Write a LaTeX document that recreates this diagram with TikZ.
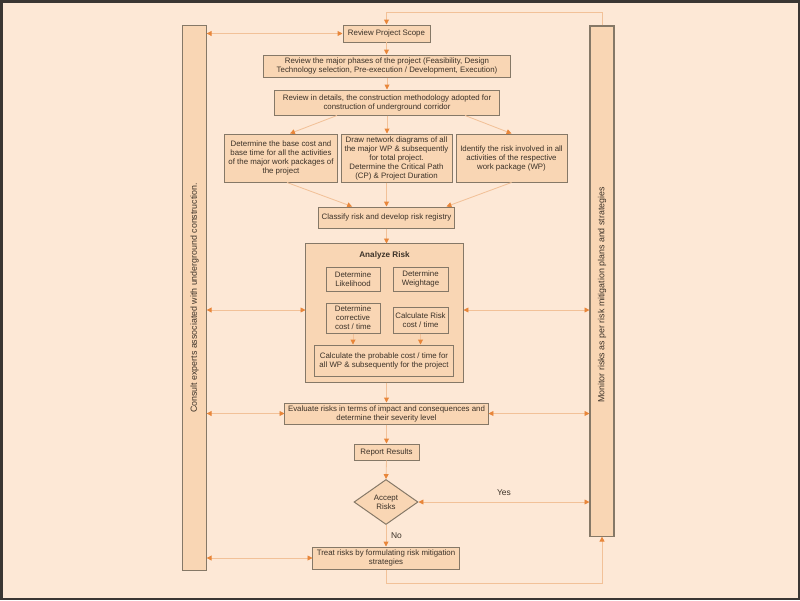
\documentclass[tikz,border=0pt]{standalone}
\usepackage{fontspec}
\setmainfont{Liberation Sans}
\usetikzlibrary{arrows.meta,shapes.geometric}

\definecolor{pagebg}{HTML}{FDE8D6}
\definecolor{framecol}{HTML}{3A3633}
\definecolor{boxfill}{HTML}{F9D6B4}
\definecolor{boxline}{HTML}{857867}
\definecolor{inkcol}{HTML}{3C3228}
\definecolor{linecol}{HTML}{F2C198}
\definecolor{tipcol}{HTML}{E8863A}

\tikzset{
  stage/.style={draw=boxline, fill=boxfill, line width=0.7pt, inner sep=0pt,
    align=center, text=inkcol, font=\fontsize{5.6}{6.4}\selectfont},
  sidebar/.style={draw=boxline, fill=boxfill, line width=0.8pt, minimum width=0.58cm},
  sidetext/.style={rotate=90, text=inkcol, font=\fontsize{6.3}{7}\selectfont},
  tag/.style={text=inkcol, font=\fontsize{6}{7}\selectfont},
  flow/.style={draw=linecol, line width=0.6pt},
}

\begin{document}
\begin{tikzpicture}[x=0.025cm, y=-0.025cm, >={Triangle[length=3.5pt,width=3.5pt,color=tipcol]}]
    % Page and frame
    \fill[framecol] (0,0) rectangle (800,600);
    \fill[pagebg] (2.5,2.5) rectangle (797.5,597.5);
    \useasboundingbox (0,0) rectangle (800,600);

    % Side bars
    \node[sidebar, minimum height=13.6cm] (consult) at (194.5,298) {};
    \node[sidetext] (consulttext) at (194.5,298) {Consult experts associated with underground construction.};
    \node[sidebar, minimum width=0.6cm, minimum height=12.75cm] (monitor) at (602,281) {};
    \node[sidetext] (monitortext) at (602,295) {Monitor risks as per risk mitigation plans and strategies};

    % Review steps
    \node[stage, minimum width=2.175cm, minimum height=0.425cm] (scope) at (386.5,33.5) {Review Project Scope};
    \node[stage, minimum width=6.15cm, minimum height=0.55cm] (phases) at (387,66)
      {Review the major phases of the project (Feasibility, Design\\Technology selection, Pre-execution / Development, Execution)};
    \node[stage, minimum width=5.6cm, minimum height=0.625cm] (method) at (387,102.5)
      {Review in details, the construction methodology adopted for\\construction of underground corridor};

    % Three parallel tasks
    \node[stage, minimum width=2.8cm, minimum height=1.2cm] (basecost) at (281,158)
      {Determine the base cost and\\base time for all the activities\\of the major work packages of\\the project};
    \node[stage, minimum width=2.775cm, minimum height=1.2cm] (network) at (396.5,158)
      {Draw network diagrams of all\\the major WP \& subsequently\\for total project.\\Determine the Critical Path\\(CP) \& Project Duration};
    \node[stage, minimum width=2.775cm, minimum height=1.2cm] (identify) at (511.5,158)
      {Identify the risk involved in all\\activities of the respective\\work package (WP)};
    \node[stage, minimum width=3.375cm, minimum height=0.525cm] (classify) at (386.5,217.5) {Classify risk and develop risk registry};

    % Analyze risk block
    \node[stage, minimum width=3.925cm, minimum height=3.45cm] (analyze) at (384.5,313) {};
    \node[text=inkcol, font=\fontsize{5.8}{7}\selectfont\bfseries] (analyzetitle) at (384.5,255) {Analyze Risk};
    \node[stage, minimum width=1.35cm, minimum height=0.6cm] (likelihood) at (353,279) {Determine\\Likelihood};
    \node[stage, minimum width=1.375cm, minimum height=0.6cm] (weightage) at (420.5,279) {Determine\\Weightage};
    \node[stage, minimum width=1.35cm, minimum height=0.75cm] (corrective) at (353,318) {Determine\\corrective\\cost / time};
    \node[stage, minimum width=1.375cm, minimum height=0.65cm] (riskcost) at (420.5,320) {Calculate Risk\\cost / time};
    \node[stage, minimum width=3.45cm, minimum height=0.775cm] (probable) at (384,360.5)
      {Calculate the probable cost / time for\\all WP \& subsequently for the project};

    % Evaluation and decision
    \node[stage, minimum width=5.075cm, minimum height=0.525cm] (evaluate) at (386.5,413.5)
      {Evaluate risks in terms of impact and consequences and\\determine their severity level};
    \node[stage, minimum width=1.625cm, minimum height=0.4cm] (report) at (386.5,452) {Report Results};
    \node[stage, diamond, minimum width=1.6cm, minimum height=1.125cm] (accept) at (386,502) {Accept\\Risks};
    \node[stage, minimum width=3.65cm, minimum height=0.55cm] (treat) at (386,558)
      {Treat risks by formulating risk mitigation\\strategies};

    % Main flow
    \draw[flow,->] (monitor.north) -- ++(0,-13) -| (scope.north);
    \draw[flow,->] (scope.south) -- (scope.south |- phases.north);
    \draw[flow,->] (phases.south) -- (method.north);
    \draw[flow,->] ([xshift=-1.25cm]method.south) -- ([xshift=0.225cm]basecost.north);
    \draw[flow,->] (method.south) -- (method.south |- network.north);
    \draw[flow,->] ([xshift=1.95cm]method.south) -- (identify.north);
    \draw[flow,->] ([xshift=0.15cm]basecost.south) -- ([xshift=-0.86cm]classify.north);
    \draw[flow,->] (classify.north |- network.south) -- (classify.north);
    \draw[flow,->] (identify.south) -- ([xshift=1.5cm]classify.north);
    \draw[flow,->] (classify.south) -- (classify.south |- analyze.north);
    \draw[flow,->] (corrective.south) -- (corrective.south |- probable.north);
    \draw[flow,->] (riskcost.south) -- (riskcost.south |- probable.north);
    \draw[flow,->] (evaluate.north |- analyze.south) -- (evaluate.north);
    \draw[flow,->] (evaluate.south) -- (report.north);
    \draw[flow,->] (report.south) -- (accept.north);
    \draw[flow,->] (accept.south) -- node[tag, right] {No} (treat.north);
    \draw[flow,->] (treat.south) -- ++(0,14) -| (monitor.south);

    % Links to the side bars
    \draw[flow,<->] (consult.east |- scope.west) -- (scope.west);
    \draw[flow,<->] ([yshift=0.075cm]consult.east |- analyze.west) -- ([yshift=0.075cm]analyze.west);
    \draw[flow,<->] ([yshift=0.075cm]analyze.east) -- ([yshift=0.075cm]analyze.east -| monitor.west);
    \draw[flow,<->] (consult.east |- evaluate.west) -- (evaluate.west);
    \draw[flow,<->] (evaluate.east) -- (evaluate.east -| monitor.west);
    \draw[flow,<->] (accept.east) -- node[tag, above=1pt] {Yes} (accept.east -| monitor.west);
    \draw[flow,<->] (consult.east |- treat.west) -- (treat.west);
\end{tikzpicture}
\end{document}
